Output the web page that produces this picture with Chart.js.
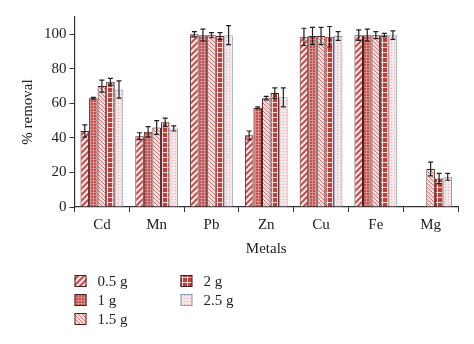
<!DOCTYPE html>
<html>
<head>
<meta charset="utf-8">
<script src="https://cdn.jsdelivr.net/npm/chart.js@4/dist/chart.umd.min.js"></script>
<style>
  body { margin: 0; background: #fff; }
  #wrap { width: 474px; height: 344px; }
</style>
</head>
<body>
<div id="wrap"><canvas id="bar-chart" width="474" height="344"></canvas></div>
<script>
const metals = ["Cd", "Mn", "Pb", "Zn", "Cu", "Fe", "Mg"];
const seriesLabels = ["0.5 g", "1 g", "1.5 g", "2 g", "2.5 g"];

// % removal per dose
const g05 = [44, 41, 100, 41.5, 98.5, 99.5, null];
const g1 = [63, 43.5, 99.5, 57.5, 99, 99.5, null];
const g15 = [70, 46, 99.5, 63, 99, 99.5, 22];
const g2 = [72.5, 49, 99, 66, 98.5, 99.5, 16.5];
const g25 = [68, 45.5, 99.5, 63.5, 99, 99.5, 17.5];

// error bar half-lengths
const e05 = [3.5, 2, 1.5, 2.5, 5, 3, null];
const e1 = [0.5, 3, 3.5, 0.5, 5, 3.5, null];
const e15 = [3.5, 4, 1.5, 1, 5, 2, 4];
const e2 = [2, 2.5, 2, 3, 6, 1, 3];
const e25 = [5, 1.5, 5.5, 5.5, 2.5, 2.5, 2];

const yTicks = [0, 20, 40, 60, 80, 100];

const RED = "#c0504d";
const FONT = "'Liberation Serif', 'DejaVu Serif', serif";

function makePattern(size, paint) {
  const c = document.createElement("canvas");
  c.width = size; c.height = size;
  const g = c.getContext("2d");
  paint(g, size);
  return g.createPattern(c, "repeat");
}

// diagonal red stripes on white
const pat05 = makePattern(6, (g, s) => {
  g.fillStyle = "#fbeaea"; g.fillRect(0, 0, s, s);
  g.strokeStyle = RED; g.lineWidth = 2;
  g.beginPath();
  g.moveTo(-1, s + 1); g.lineTo(s + 1, -1);
  g.moveTo(-1, 1); g.lineTo(1, -1);
  g.moveTo(s - 1, s + 1); g.lineTo(s + 1, s - 1);
  g.stroke();
});
// fine red grid
const pat1 = makePattern(3, (g, s) => {
  g.fillStyle = RED; g.fillRect(0, 0, s, s);
  g.fillStyle = "#dc8d8b"; g.fillRect(0, 0, s, 1); g.fillRect(0, 0, 1, s);
});
// light pink with thin back-diagonal hatch
const pat15 = makePattern(4, (g, s) => {
  g.fillStyle = "#f6dede"; g.fillRect(0, 0, s, s);
  g.fillStyle = "#c87a78";
  for (let i = 0; i < s; i++) g.fillRect(i, i, 1, 1);
});
// red with white cross lines
const pat2 = makePattern(5, (g, s) => {
  g.fillStyle = "#b8403d"; g.fillRect(0, 0, s, s);
  g.fillStyle = "#f6d6d5"; g.fillRect(0, 2, s, 1); g.fillRect(2, 0, 1, s);
});
// very light pink dots
const pat25 = makePattern(3, (g, s) => {
  g.fillStyle = "#f8e6e6"; g.fillRect(0, 0, s, s);
  g.fillStyle = "#e2b2b2"; g.fillRect(1, 1, 1, 1);
});

const values = [g05, g1, g15, g2, g25];
const errors = [e05, e1, e15, e2, e25];
const fills = [pat05, pat1, pat15, pat2, pat25];
const borders = ["#4a2222", "#4a2222", "#4a2222", "#4a2222", "#8a9bbf"];

const errorBars = {
  id: "errorBars",
  afterDatasetsDraw(chart) {
    const ctx = chart.ctx;
    const y = chart.scales.y;
    ctx.save();
    ctx.strokeStyle = "#222";
    ctx.lineWidth = 1.2;
    chart.data.datasets.forEach((ds, di) => {
      const meta = chart.getDatasetMeta(di);
      meta.data.forEach((bar, i) => {
        const v = ds.data[i], e = errors[di][i];
        if (v == null || e == null) return;
        const top = y.getPixelForValue(v + e), bot = y.getPixelForValue(v - e);
        ctx.beginPath();
        ctx.moveTo(bar.x, top); ctx.lineTo(bar.x, bot);
        ctx.moveTo(bar.x - 2.5, top); ctx.lineTo(bar.x + 2.5, top);
        ctx.moveTo(bar.x - 2.5, bot); ctx.lineTo(bar.x + 2.5, bot);
        ctx.stroke();
      });
    });
    ctx.restore();
  }
};

// two-column legend, filled column by column
const colLegend = {
  id: "colLegend",
  afterDraw(chart) {
    const ctx = chart.ctx;
    const left = chart.chartArea.left;
    const top = chart.scales.x.bottom + 19;
    ctx.save();
    ctx.font = "15px " + FONT;
    ctx.textBaseline = "middle";
    chart.data.datasets.forEach((ds, i) => {
      const col = Math.floor(i / 3), row = i % 3;
      const x = left + col * 106, y = top + row * 19;
      ctx.fillStyle = ds.backgroundColor;
      ctx.fillRect(x, y - 6, 12, 12);
      ctx.strokeStyle = ds.borderColor;
      ctx.lineWidth = 1;
      ctx.strokeRect(x + 0.5, y - 5.5, 11, 11);
      ctx.fillStyle = "#222";
      ctx.fillText(ds.label, x + 23, y + 1);
    });
    ctx.restore();
  }
};

const config = {
  type: "bar",
  data: {
    labels: metals,
    datasets: seriesLabels.map((lab, i) => ({
      label: lab,
      data: values[i],
      backgroundColor: fills[i],
      borderColor: borders[i],
      borderWidth: 1,
      categoryPercentage: 0.78,
      barPercentage: 1.0,
    })),
  },
  options: {
    responsive: false,
    animation: false,
    layout: { padding: { left: 15, right: 16, top: 17, bottom: 82 } },
    plugins: {
      legend: { display: false },
      tooltip: { enabled: false },
    },
    scales: {
      x: {
        grid: { display: true, drawOnChartArea: false, drawTicks: true, tickLength: 5, color: "#333", offset: true },
        border: { display: true, color: "#333", width: 1.2 },
        ticks: { color: "#222", font: { family: FONT, size: 15 }, padding: 4 },
        title: { display: true, text: "Metals", color: "#222", font: { family: FONT, size: 15 }, padding: { top: 2 } },
      },
      y: {
        min: 0,
        max: 110,
        afterBuildTicks: (axis) => { axis.ticks = yTicks.map(v => ({ value: v })); },
        grid: { display: true, drawOnChartArea: false, drawTicks: true, tickLength: 5, color: "#333" },
        border: { display: true, color: "#333", width: 1.2 },
        ticks: { color: "#222", font: { family: FONT, size: 15 }, padding: 3 },
        title: { display: true, text: "% removal", color: "#222", font: { family: FONT, size: 15 }, padding: { bottom: 4 } },
      },
    },
  },
  plugins: [errorBars, colLegend],
};

const ctx = document.getElementById("bar-chart").getContext("2d");
new Chart(ctx, config);
</script>
</body>
</html>
